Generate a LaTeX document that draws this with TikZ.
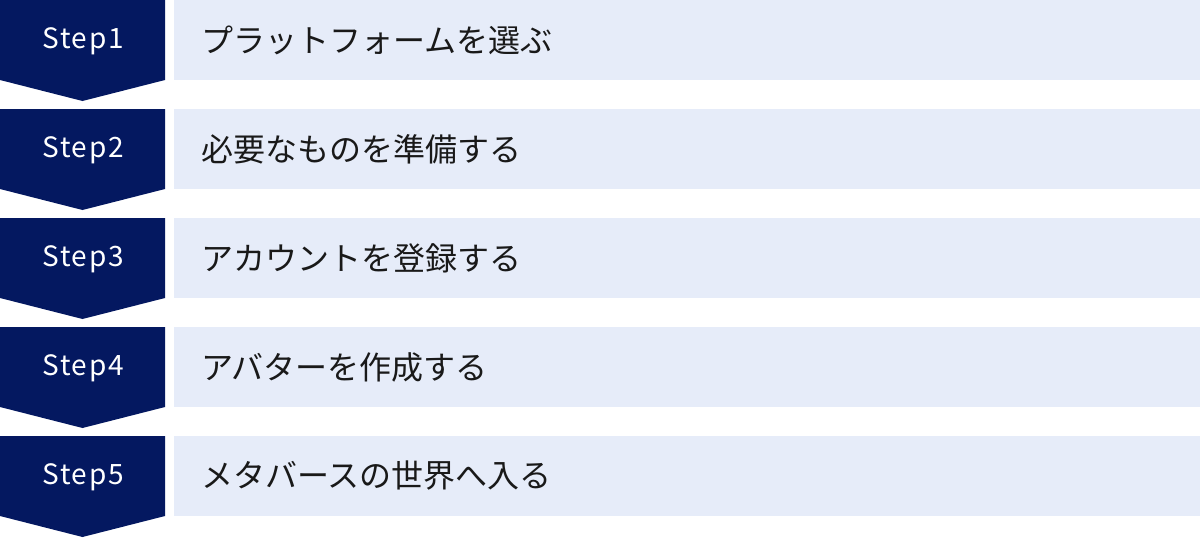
\documentclass[tikz,border=0pt]{standalone}
\usepackage{fontspec}
\setmainfont{Noto Sans CJK JP}
\definecolor{stepNavy}{RGB}{4,24,96}
\definecolor{rowBlue}{RGB}{230,236,249}
\tikzset{
  stepArrow/.style={fill=stepNavy},
  stepLabel/.style={text=white, font=\fontsize{28}{32}\selectfont\addfontfeature{LetterSpace=6}, inner sep=0pt},
  rowBox/.style={fill=rowBlue, draw=none, minimum width=1026pt, minimum height=80pt, anchor=north west, inner sep=0pt},
  rowText/.style={text=black!90, font=\fontsize{32}{36}\selectfont, anchor=west, inner sep=0pt}
}
\begin{document}
\begin{tikzpicture}[x=1pt,y=-1pt]
    \useasboundingbox (0,0) rectangle (1200,538);
    \begin{scope}[yshift=0pt]
      \fill [stepArrow] (0,0) -- (165,0) -- (165,80) -- (82.5,101) -- (0,80) -- cycle;
      \node [stepLabel] (stepOne) at (83,41) {Step1};
      \node [rowBox] (boxOne) at (174,0) {};
      \node [rowText] (platform) at (201,40) {プラットフォームを選ぶ};
    \end{scope}
    \begin{scope}[yshift=-109pt]
      \fill [stepArrow] (0,0) -- (165,0) -- (165,80) -- (82.5,101) -- (0,80) -- cycle;
      \node [stepLabel] (stepTwo) at (83,41) {Step2};
      \node [rowBox] (boxTwo) at (174,0) {};
      \node [rowText] (prepare) at (201,40) {必要なものを準備する};
    \end{scope}
    \begin{scope}[yshift=-218pt]
      \fill [stepArrow] (0,0) -- (165,0) -- (165,80) -- (82.5,101) -- (0,80) -- cycle;
      \node [stepLabel] (stepThree) at (83,41) {Step3};
      \node [rowBox] (boxThree) at (174,0) {};
      \node [rowText] (account) at (201,40) {アカウントを登録する};
    \end{scope}
    \begin{scope}[yshift=-327pt]
      \fill [stepArrow] (0,0) -- (165,0) -- (165,80) -- (82.5,101) -- (0,80) -- cycle;
      \node [stepLabel] (stepFour) at (83,41) {Step4};
      \node [rowBox] (boxFour) at (174,0) {};
      \node [rowText] (avatar) at (201,40) {アバターを作成する};
    \end{scope}
    \begin{scope}[yshift=-436pt]
      \fill [stepArrow] (0,0) -- (165,0) -- (165,80) -- (82.5,101) -- (0,80) -- cycle;
      \node [stepLabel] (stepFive) at (83,41) {Step5};
      \node [rowBox] (boxFive) at (174,0) {};
      \node [rowText] (metaverse) at (201,40) {メタバースの世界へ入る};
    \end{scope}
  \end{tikzpicture}
\end{document}
